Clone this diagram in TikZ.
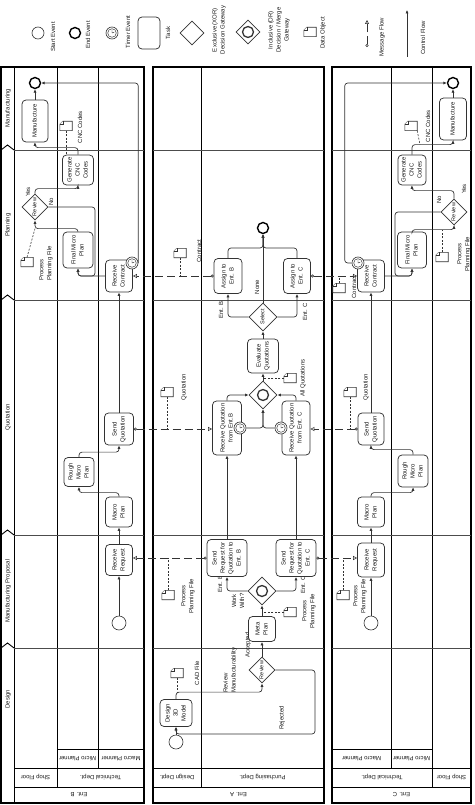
\documentclass[tikz,border=0pt]{standalone}
\usepackage{fontspec}
\setmainfont{Liberation Sans}
\usepackage{graphicx}
\usetikzlibrary{shapes.geometric,arrows.meta,calc}

\newcommand{\ssize}{\fontsize{6}{8}\selectfont}
\newcommand{\vtext}[1]{\rotatebox{90}{\begin{tabular}{@{}c@{}}#1\end{tabular}}}
% data object: name, position
\newcommand{\dataobj}[2]{%
  \node[dobj] (#1) at (#2) {};
  \draw[dobjline] ([xshift=3pt]#1.north west) -- (#1.north east) -- (#1.south east) -- (#1.south west) -- ([yshift=-3pt]#1.north west) -- cycle;
  \draw[dobjline] ([xshift=3pt]#1.north west) |- ([yshift=-3pt]#1.north west);
}

\tikzset{
  pool/.style={draw=black, line width=1.6pt},
  lane/.style={draw=black, line width=0.9pt},
  phase/.style={draw=black!70, line width=0.7pt},
  vlbl/.style={font=\ssize, text=black!90, inner sep=0pt, rotate=90, align=center},
  hdr/.style={font=\ssize, text=black!90, inner sep=0pt, rotate=180},
  task/.style={draw=black!80, line width=0.75pt, rounded corners=4pt, fill=white, inner sep=0pt,
    minimum width=27pt, minimum height=31pt, font=\ssize, text=black!90},
  startev/.style={circle, draw=black!80, line width=0.6pt, fill=white, inner sep=0pt, minimum size=14pt},
  endev/.style={circle, draw=black, line width=1.4pt, fill=white, inner sep=0pt, minimum size=11pt},
  timer/.style={circle, draw=black!80, line width=0.6pt, fill=white, inner sep=0pt, minimum size=12pt,
    path picture={
      \draw[line width=0.45pt] (path picture bounding box.center) circle (4.3pt);
      \draw[line width=0.45pt] (path picture bounding box.center) -- ++(0pt,3pt)
        (path picture bounding box.center) -- ++(2.2pt,0.8pt);}},
  xorgate/.style={diamond, aspect=1, draw=black!80, line width=0.75pt, fill=white, inner sep=0pt,
    minimum size=26pt, font=\fontsize{5.5}{7}\selectfont, text=black!90},
  orgate/.style={xorgate, minimum size=28pt,
    path picture={\draw[line width=1.3pt] (path picture bounding box.center) circle (5.5pt);}},
  dobj/.style={minimum width=12pt, minimum height=9pt, inner sep=0pt},
  dobjline/.style={draw=black!80, line width=0.6pt, fill=white},
  flow/.style={draw=black!80, line width=0.7pt, rounded corners=3pt, -{Latex[length=3.5pt,width=3.2pt]}},
  msg/.style={draw=black!80, line width=0.6pt, dash pattern=on 8pt off 4pt,
    {Circle[open,length=3pt,width=3pt]}-{Triangle[open,length=4pt,width=4pt]}},
  assoc/.style={draw=black!80, line width=0.6pt, dash pattern=on 2pt off 1.5pt},
}

\begin{document}
\begin{tikzpicture}[x=1pt, y=-1pt]
\useasboundingbox (0,0) rectangle (474,805);

% Legend
\node[startev, minimum size=12pt] (lgS) at (38,33) {};
\node[vlbl] (lgSl) at (53,37) {Start Event};
\node[endev] (lgE) at (75,33) {};
\node[vlbl] (lgEl) at (88,35) {End Event};
\node[timer] (lgT) at (112,33) {};
\node[vlbl] (lgTl) at (128,32) {Timer Event};
\node[task, minimum width=22pt, minimum height=32pt] (lgK) at (149,33) {};
\node[vlbl] (lgKl) at (168,33) {Task};
\node[xorgate, minimum size=24pt] (lgX) at (192,33) {};
\node[vlbl] (lgXl) at (219,30) {Exclusive (XOR)\\Decision Gateway};
\node[orgate, minimum size=24pt] (lgO) at (248,32) {};
\node[vlbl] (lgOl) at (279,30) {Inclusive (OR)\\Decision / Merge\\Gateway};
\dataobj{lgD}{310,32}
\node[vlbl] (lgDl) at (323,33) {Data Object};
\coordinate (lgMa) at (367,47);
\coordinate (lgMb) at (367,20);
\draw[msg] (lgMa) -- (lgMb);
\node[vlbl] (lgMl) at (382,37) {Message Flow};
\coordinate (lgCa) at (407,57);
\coordinate (lgCb) at (407,10);
\draw[flow] (lgCa) -- (lgCb);
\node[vlbl] (lgCl) at (423,38) {Control Flow};

% Pools and lanes
\draw[pool] (1,67) rectangle (144,803);
\draw[pool] (153,67) rectangle (324,803);
\draw[pool] (332,67) rectangle (471,803);
\draw[lane] (14,67) -- (14,803);
\draw[lane] (57,67) -- (57,787) (98,67) -- (98,768);
\draw[lane] (14,787) -- (144,787) (14,768) -- (144,768) (57,749) -- (144,749);
\draw[lane] (201,67) -- (201,787) (153,787) -- (324,787) (153,768) -- (324,768);
\draw[lane] (391,67) -- (391,768) (432,67) -- (432,787);
\draw[lane] (332,787) -- (471,787) (332,768) -- (471,768) (332,749) -- (432,749);

% Phases
\foreach \y in {150,300,535,648}{
  \draw[lane] (1,\y) -- (7.5,\y-5) -- (14,\y);
  \draw[phase] (14,\y) -- (144,\y) (153,\y) -- (324,\y) (332,\y) -- (471,\y);
}
\foreach \yy/\txt in {108/Manufacturing, 225/Planning, 417/Quotation, 591/Manufacturing Proposal, 699/Design}
  \node[vlbl] (ph\yy) at (8,\yy) {\txt};

% Lane headers
\node[hdr] (hB) at (79,795) {Ent. B};
\node[hdr] (hBs) at (35.5,777.5) {Shop Floor};
\node[hdr] (hBt) at (100.5,777.5) {Technical Dept.};
\node[hdr] (hBmi) at (77.5,758.5) {Micro Planner};
\node[hdr] (hBma) at (121,758.5) {Macro Planner};
\node[hdr] (hA) at (238.5,795) {Ent. A};
\node[hdr] (hAd) at (177,777.5) {Design Dept.};
\node[hdr] (hAp) at (262.5,777.5) {Purchasing Dept.};
\node[hdr] (hC) at (401.5,795) {Ent. C};
\node[hdr] (hCt) at (382,777.5) {Technical Dept.};
\node[hdr] (hCs) at (451.5,777.5) {Shop Floor};
\node[hdr] (hCma) at (361.5,758.5) {Macro Planner};
\node[hdr] (hCmi) at (411.5,758.5) {Micro Planner};

% Ent. B
\node[startev] (stB) at (119,623) {};
\node[task] (rrB) at (119,560) {\vtext{Receive\\Request}};
\node[task, minimum height=30pt] (mpB) at (119,512) {\vtext{Macro\\Plan}};
\node[task, minimum width=30pt, minimum height=29pt] (rmB) at (79,472) {\vtext{Rough\\Micro\\Plan}};
\node[task, minimum width=29pt, minimum height=32pt] (sqB) at (119,429) {\vtext{Send\\Quotation}};
\node[task, minimum height=32pt] (rcB) at (119,276) {\vtext{Receive\\Contract}};
\node[timer] (tmB) at (132,263) {};
\node[task, minimum width=30pt, minimum height=36pt] (fmB) at (78,250) {\vtext{Final Micro\\Plan}};
\node[xorgate] (rvB) at (35,207) {\vtext{Review}};
\node[task, minimum width=31pt, minimum height=30pt] (gcB) at (78,170) {\vtext{Generate\\CNC\\Codes}};
\node[task, minimum width=26pt, minimum height=42pt] (mfB) at (35,121) {\vtext{Manufacture}};
\node[endev] (endB) at (35,83) {};
\coordinate (nB) at (95,276);
\dataobj{cncB}{66,126}
\node[vlbl] (lcncB) at (80,127) {CNC Codes};
\dataobj{ppB}{27,262}
\node[vlbl, align=left, anchor=west] (lppB) at (46,281) {Process\\Planning File};
\node[vlbl] (lyB) at (28,192) {Yes};
\node[vlbl] (lnB) at (51,202) {No};

\draw[flow] (stB) -- (rrB);
\draw[flow] (rrB) -- (mpB);
\draw[flow] (mpB.north) -- ++(0,-4) -| (rmB.south);
\draw[flow] (rmB.north) -- ++(0,-5) -| (sqB.south);
\draw[flow] (sqB) -- (rcB);
\draw[flow] (rcB.west) -| (fmB.south);
\draw[flow] (rvB.east) -| (nB) -| (fmB.south);
\draw[flow] (fmB.north) -- ++(0,-3) coordinate (fmBj) -| (rvB.south);
\draw[assoc] (ppB.north) -- (rvB.south |- fmBj);
\draw[flow] (rvB.north) -- ++(0,-5) -| (gcB.south);
\draw[flow] (gcB.north) -- ++(0,-7) -| (mfB.south);
\draw[assoc] (cncB.south) -- (cncB.south |- gcB.north);
\draw[flow] (mfB) -- (endB);
\draw[flow] (tmB.east) |- (endB.east);

% Ent. A
\node[startev] (stA) at (176,742) {};
\node[task, minimum width=32pt, minimum height=27pt] (dmA) at (176,713) {\vtext{Design\\3D\\Model}};
\dataobj{cadA}{177,673}
\node[vlbl] (lcadA) at (197,673) {CAD File};
\node[xorgate] (rvA) at (262,670) {\vtext{Review}};
\node[vlbl, align=left, anchor=west] (lrvA) at (230,693) {Review\\Manufacturability};
\node[vlbl] (lacA) at (248,645) {Accepted};
\node[vlbl] (lrjA) at (282,718) {Rejected};
\coordinate (rjA) at (315,734);
\node[task, minimum width=27pt, minimum height=25pt] (mtA) at (262,629) {\vtext{Meta\\Plan}};
\node[orgate] (wwA) at (262,591) {};
\node[vlbl] (lwwA) at (238,601) {Work\\With?};
\dataobj{ppA2}{290,612}
\node[vlbl] (lppA2) at (309,611) {Process\\Planning File};
\node[vlbl] (lebA1) at (220,584) {Ent. B};
\node[vlbl] (lecA1) at (303,585) {Ent. C};
\node[task, minimum width=40pt, minimum height=37pt] (sbA) at (227,558) {\vtext{Send\\Request for\\Quotation to\\Ent. B}};
\node[task, minimum width=40pt, minimum height=37pt] (scA) at (296,558) {\vtext{Send\\Request for\\Quotation to\\Ent. C}};
\dataobj{ppA1}{168,595}
\node[vlbl] (lppA1) at (188,596) {Process\\Planning File};
\node[task, minimum width=29pt, minimum height=54pt] (qbA) at (227,428) {\vtext{Receive Quotation\\from Ent.B}};
\node[task, minimum width=28pt, minimum height=54pt] (qcA) at (296,428) {\vtext{Receive Quotation\\from Ent. C}};
\node[timer] (tqbA) at (240,428) {};
\node[timer] (tqcA) at (281,428) {};
\dataobj{dqB}{167,392}
\node[vlbl] (ldqB) at (184,387) {Quotation};
\node[orgate] (mgA) at (263,395) {};
\dataobj{dqA}{290,378}
\node[vlbl] (ldqA) at (303,378) {All Quotations};
\node[task, minimum width=31pt, minimum height=34pt] (evA) at (263,356) {\vtext{Evaluate\\Quotations}};
\node[xorgate, minimum size=28pt] (slA) at (263,317) {\vtext{Select}};
\node[vlbl] (lebA2) at (221,310) {Ent. B};
\node[vlbl] (lecA2) at (305,312) {Ent. C};
\node[vlbl] (lnoA) at (257,287) {None};
\node[task, minimum width=28pt, minimum height=35pt] (abA) at (228,276) {\vtext{Assign to\\Ent. B}};
\node[task, minimum width=27pt, minimum height=35pt] (acA) at (297,276) {\vtext{Assign to\\Ent. C}};
\node[endev] (endA) at (263,228) {};
\coordinate (jEnd) at (263,248);
\dataobj{dcB}{180,253}
\node[vlbl] (ldcB) at (199,251) {Contract};

\draw[flow] (stA) -- (dmA);
\draw[flow] (dmA.north) -- ++(0,-7) coordinate (dmAj) -| (rvA.south);
\draw[assoc] (cadA.south) -- (cadA.south |- dmAj);
\draw[flow] (rvA) -- (mtA);
\draw[flow] (rvA.east) -| (rjA) -| (dmA.south);
\draw[flow] (mtA) -- (wwA);
\draw[assoc] (ppA2.west) -- (ppA2.west -| mtA.north);
\draw[flow] (wwA.west) -| (sbA.south);
\draw[flow] (wwA.east) -| (scA.south);
\draw[flow] (sbA) -- (qbA);
\draw[flow] (scA) -- (qcA);
\draw[flow] (qbA.north) |- (mgA.west);
\draw[flow] (qcA.north) |- (mgA.east);
\draw[flow] (tqbA.east) -| (mgA.south);
\draw[flow] (tqcA.west) -| (mgA.south);
\draw[flow] (mgA) -- (evA);
\draw[assoc] (dqA.west) -- (dqA.west -| evA.south);
\draw[flow] (evA) -- (slA);
\draw[flow] (slA.west) -| (abA.south);
\draw[flow] (slA.east) -| (acA.south);
\draw[flow] (slA) -- (endA);
\draw[flow] (abA.north) |- (jEnd) -- (endA.south);
\draw[flow] (acA.north) |- (jEnd) -- (endA.south);

% Ent. C
\node[startev] (stC) at (371,623) {};
\node[task, minimum height=34pt] (rrC) at (371,560) {\vtext{Receive\\Request}};
\dataobj{ppC1}{343,595}
\node[vlbl] (lppC1) at (360,596) {Process\\Planning File};
\node[task, minimum height=30pt] (mpC) at (371,512) {\vtext{Macro\\Plan}};
\node[task, minimum width=30pt, minimum height=32pt] (rmC) at (413,471) {\vtext{Rough\\Micro\\Plan}};
\node[task, minimum width=26pt, minimum height=32pt] (sqC) at (371,429) {\vtext{Send\\Quotation}};
\dataobj{dqC}{350,392}
\node[vlbl] (ldqC) at (366,387) {Quotation};
\node[task, minimum height=32pt] (rcC) at (371,276) {\vtext{Receive\\Contract}};
\node[timer] (tmC) at (358,263) {};
\dataobj{dcC}{339,288}
\node[vlbl] (ldcC) at (354,287) {Contract};
\node[task, minimum width=29pt, minimum height=36pt] (fmC) at (412,250) {\vtext{Final Micro\\Plan}};
\coordinate (nC) at (395,276);
\node[xorgate] (rvC) at (454,212) {\vtext{Review}};
\dataobj{ppC2}{442,257}
\node[vlbl] (lppC2) at (464,254) {Process\\Planning File};
\node[vlbl] (lyC) at (464,189) {Yes};
\node[vlbl] (lnC) at (439,200) {No};
\node[task, minimum width=28pt, minimum height=30pt] (gcC) at (412,170) {\vtext{Generate\\CNC\\Codes}};
\dataobj{cncC}{411,126}
\node[vlbl] (lcncC) at (428,126) {CNC Codes};
\node[task, minimum width=27pt, minimum height=42pt] (mfC) at (453,119) {\vtext{Manufacture}};
\node[endev] (endC) at (453,83) {};

\draw[flow] (stC) -- (rrC);
\draw[flow] (rrC) -- (mpC);
\draw[flow] (mpC.north) -- ++(0,-4) -| (rmC.south);
\draw[flow] (rmC.north) -- ++(0,-5) -| (sqC.south);
\draw[flow] (sqC) -- (rcC);
\draw[flow] (rcC.east) -| (fmC.south);
\draw[flow] (rvC.west) -| (nC) -| (fmC.south);
\draw[flow] (fmC.north) -- ++(0,-2) coordinate (fmCj) -| (rvC.south);
\draw[assoc] (ppC2.north) -- (ppC2.north |- fmCj);
\draw[flow] (rvC.north) -- ++(0,-8) -| (gcC.south);
\draw[flow] (gcC.north) -- ++(0,-10) coordinate (gcCj) -| (mfC.south);
\draw[assoc] (cncC.south east) -- ([xshift=8pt]gcCj);
\draw[flow] (mfC) -- (endC);
\draw[flow] (tmC.west) -- ++(-7,0) |- (endC.west);

% Message flows
\draw[msg] (sbA.west) -- (sbA.west -| rrB.east);
\draw[msg] (scA.east) -- (scA.east -| rrC.west);
\draw[msg] (sqB.east) -- (sqB.east -| qbA.west);
\draw[msg] (sqC.west) -- (sqC.west -| qcA.east);
\draw[msg] (abA.west) -- (abA.west -| rcB.east);
\draw[msg] (acA.east) -- (acA.east -| rcC.west);
\draw[assoc] (ppA1.north) -- (ppA1.north |- sbA.west);
\draw[assoc] (ppC1.north) -- (ppC1.north |- scA.east);
\draw[assoc] (dqB.south) -- (dqB.south |- sqB.east);
\draw[assoc] (dqC.south) -- (dqC.south |- sqC.west);
\draw[assoc] (dcB.south) -- (dcB.south |- abA.west);
\draw[assoc] (dcC.north) -- (dcC.north |- acA.east);

\end{tikzpicture}
\end{document}
